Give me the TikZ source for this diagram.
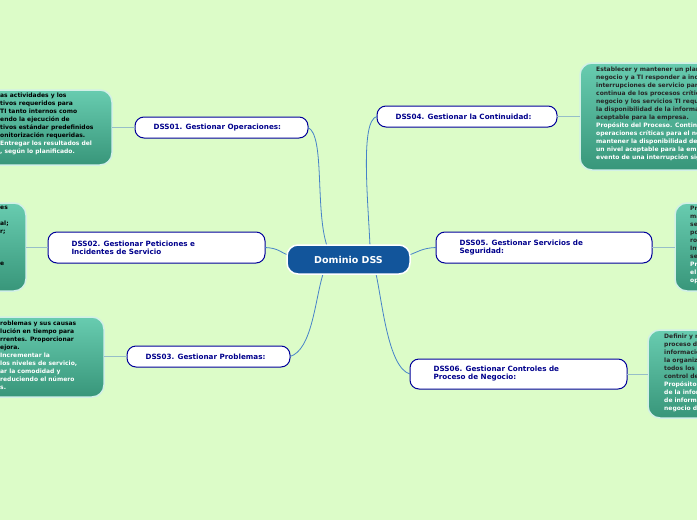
\documentclass[tikz,border=0pt]{standalone}
\usepackage{fontspec}
\setmainfont{DejaVu Sans}
\definecolor{bg}{RGB}{220,252,200}
\definecolor{cblue}{RGB}{18,85,155}
\definecolor{ntop}{RGB}{104,204,176}
\definecolor{nbot}{RGB}{56,150,122}
\definecolor{lk}{RGB}{70,130,200}
\definecolor{slk}{RGB}{150,190,200}
\begin{document}
\begin{tikzpicture}[x=1pt,y=-1pt,
 topic/.style={draw=blue!60!black,line width=1pt,fill=white,rounded corners=9pt,inner sep=0pt},
 tlabel/.style={font=\fontsize{7.2}{8}\selectfont\bfseries,text=blue!55!black,align=left,anchor=west},
 center/.style={draw=white,line width=1.5pt,fill=cblue,rounded corners=11pt,text=white,font=\fontsize{9.5}{10}\selectfont\bfseries},
 note/.style={draw=white!70!ntop,line width=1.5pt,top color=ntop,bottom color=nbot,rounded corners=12pt},
 ntext/.style={font=\fontsize{6}{8}\selectfont\bfseries,align=left,anchor=north west,inner sep=0pt},
 link/.style={draw=lk,line width=0.8pt},
 slink/.style={draw=slk,line width=0.8pt}]
\fill[bg] (0,0) rectangle (697,520);
\clip (0,0) rectangle (697,520);
% note boxes
\draw[note] (-30,90) rectangle (112,165);
\draw[note] (-30,203) rectangle (26,291);
\draw[note] (-30,317) rectangle (104,397);
\draw[note] (580,63) rectangle (720,170);
\draw[note] (675,203) rectangle (720,291);
\draw[note] (648,330) rectangle (720,418);
\node[ntext] (t1) at (0,93) {as actividades y los\\tivos requeridos para\\TI tanto internos como\\endo la ejecución de\\tivos estándar predefinidos\\onitorización requeridas.\\\textcolor{white}{Entregar los resultados del}\\\textcolor{white}{, según lo planificado.}};
\node[ntext] (t2) at (0,206) {es\\ \\al;\\r;\\ \\ \\ \\e};
\node[ntext] (t3) at (0,321) {roblemas y sus causas\\lución en tiempo para\\rrentes. Proporcionar\\ejora.\\\textcolor{white}{Incrementar la}\\\textcolor{white}{los niveles de servicio,}\\\textcolor{white}{ar la comodidad y}\\\textcolor{white}{reduciendo el número}\\\textcolor{white}{s.}};
\node[ntext,text=black!85] (t4) at (596,67) {Establecer y mantener un plan para permitir al\\negocio y a TI responder a incidentes e\\interrupciones de servicio para la operación\\continua de los procesos críticos para el\\negocio y los servicios TI requeridos y mantener\\la disponibilidad de la información a un nivel\\aceptable para la empresa.\\\textcolor{white}{Propósito del Proceso. Continuar las}\\\textcolor{white}{operaciones críticas para el negocio y}\\\textcolor{white}{mantener la disponibilidad de la información a}\\\textcolor{white}{un nivel aceptable para la empresa ante el}\\\textcolor{white}{evento de una interrupción significativa.}};
\node[ntext,text=black!85] (t5) at (690,206) {Proteger\\mantener\\seguridad\\política\\roles\\Información\\seguridad\\\textcolor{white}{Propósito}\\\textcolor{white}{el impacto}\\\textcolor{white}{operación}};
\node[ntext,text=black!85] (t6) at (664,334) {Definir y mantener\\proceso de negocio\\información\\la organización\\todos los controles\\control de negocio\\\textcolor{white}{Propósito del Proceso}\\\textcolor{white}{de la información}\\\textcolor{white}{de información}\\\textcolor{white}{negocio de la empresa}};
% topics
\draw[topic] (135,117) rectangle (308,138); \node[tlabel] (n1) at (150,127.5) {DSS01. Gestionar Operaciones:};
\draw[topic] (48,232) rectangle (265,263); \node[tlabel] (n2) at (68,247.5) {DSS02. Gestionar Peticiones e\\Incidentes de Servicio};
\draw[topic] (127,346) rectangle (290,367); \node[tlabel] (n3) at (142,356.5) {DSS03. Gestionar Problemas:};
\draw[topic] (377,106) rectangle (557,127); \node[tlabel] (n4) at (392,116.5) {DSS04. Gestionar la Continuidad:};
\draw[topic] (436,232) rectangle (652,263); \node[tlabel] (n5) at (456,247.5) {DSS05. Gestionar Servicios de\\Seguridad:};
\draw[topic] (410,359) rectangle (627,389); \node[tlabel] (n6) at (430,374) {DSS06. Gestionar Controles de\\Proceso de Negocio:};
% links
\coordinate (c1) at (308,127.5); \coordinate (c2) at (265,247.5); \coordinate (c3) at (290,356.5);
\coordinate (c4) at (377,116.5); \coordinate (c5) at (436,247.5); \coordinate (c6) at (410,374);
\draw[link] (c1) .. controls (325,135) and (315,210) .. (327,246);
\draw[link] (c2) .. controls (278,248) and (280,252) .. (288,255);
\draw[link] (c3) .. controls (312,350) and (315,300) .. (323,274);
\draw[link] (c4) .. controls (360,120) and (368,200) .. (370,246);
\draw[link] (c5) .. controls (422,248) and (418,252) .. (409,255);
\draw[link] (c6) .. controls (388,368) and (382,300) .. (376,274);
\draw[slink] (112,127.5) -- (135,127.5);
\draw[slink] (26,247.5) -- (48,247.5);
\draw[slink] (104,356.5) -- (127,356.5);
\draw[slink] (557,116.5) -- (580,116.5);
\draw[slink] (652,247.5) -- (675,247.5);
\draw[slink] (627,374) -- (648,374);
% center
\node[center,minimum width=123pt,minimum height=29pt] (dss) at (348.5,259.5) {Dominio DSS};
\end{tikzpicture}
\end{document}
